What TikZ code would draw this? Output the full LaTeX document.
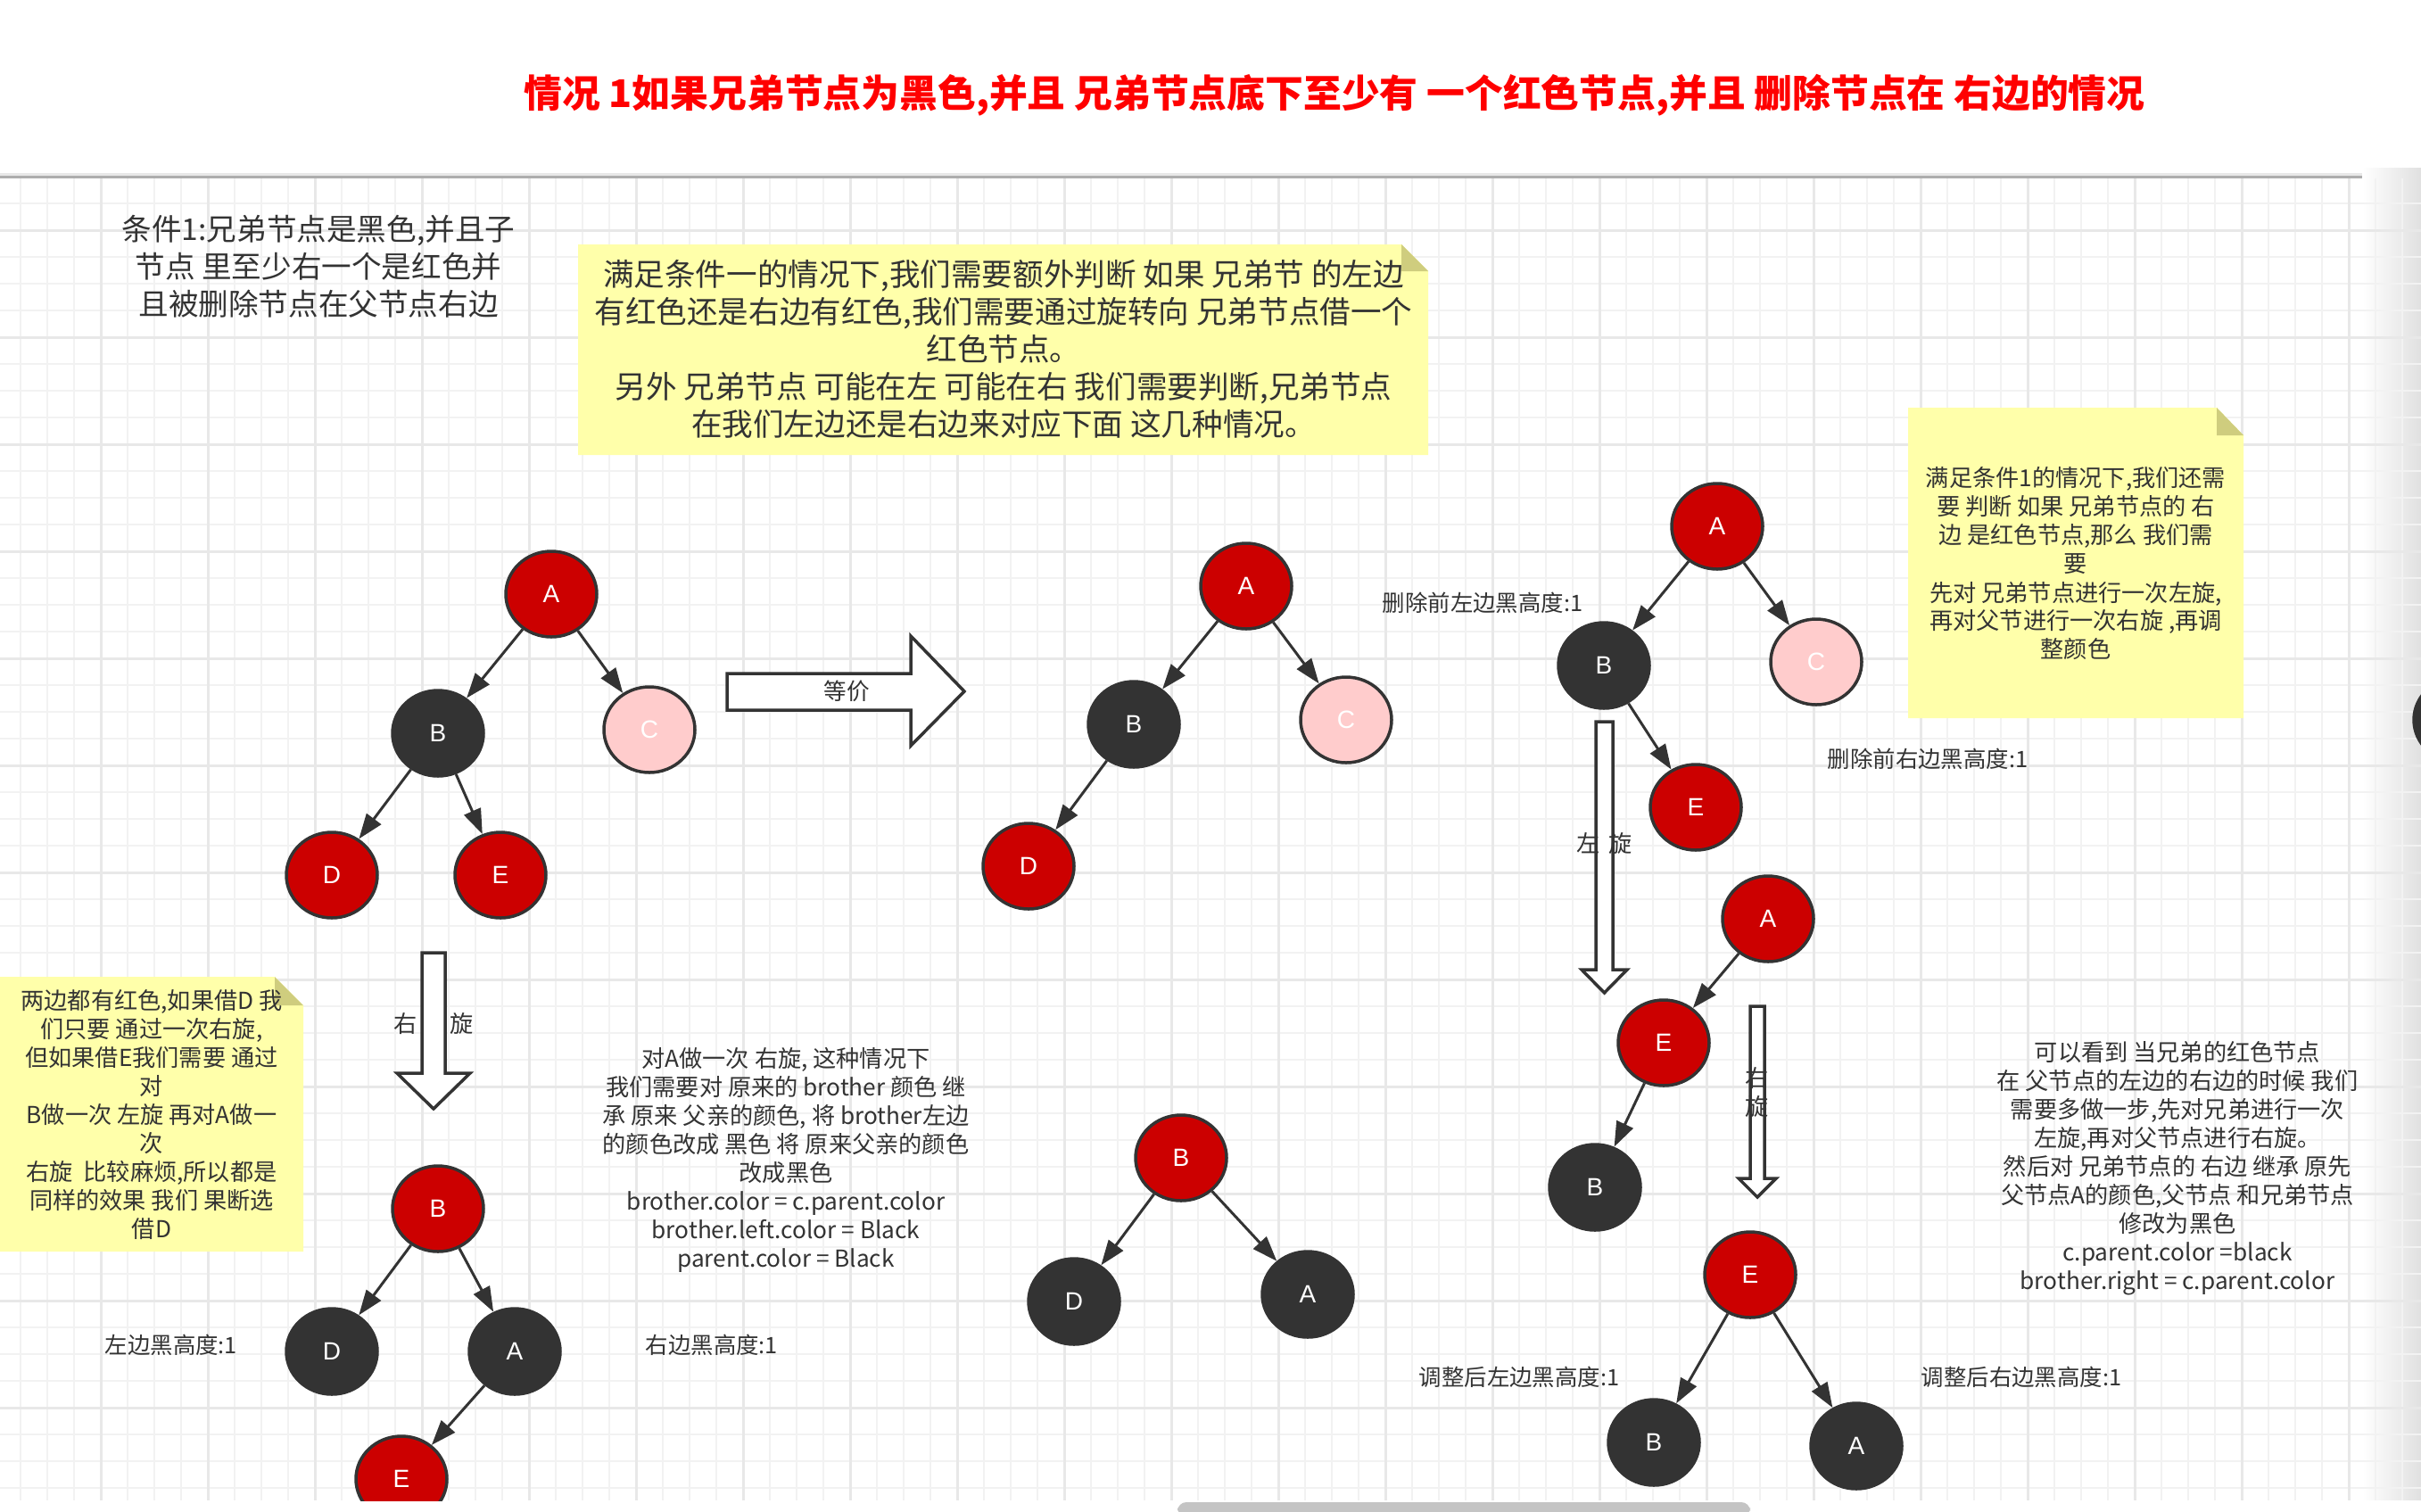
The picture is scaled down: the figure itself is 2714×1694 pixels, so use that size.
\documentclass[tikz,border=0pt]{standalone}
\usepackage{fontspec}
\setmainfont{Noto Sans CJK SC}
\newfontfamily\latf{Liberation Sans}
\usetikzlibrary{shapes.geometric,arrows.meta}
\definecolor{nred}{HTML}{CC0000}
\definecolor{nblack}{HTML}{333333}
\definecolor{npink}{HTML}{FFCCCC}
\definecolor{notey}{HTML}{FFFFAA}
\definecolor{notef}{HTML}{CFCD7E}
\definecolor{txt}{HTML}{333333}
\definecolor{titlered}{HTML}{FF0000}
\definecolor{scrollc}{HTML}{C4C4C4}
\begin{document}
\begin{tikzpicture}[x=0.5pt,y=-0.5pt,
  tnode/.style={ellipse, draw=nblack, line width=1.75pt, minimum width=51pt, minimum height=48pt, inner sep=0pt, text=white, font=\latf\fontsize{14}{14}\selectfont},
  rn/.style={tnode, fill=nred},
  bn/.style={tnode, fill=nblack},
  pn/.style={tnode, fill=npink},
  tedge/.style={draw=nblack, line width=1.5pt, -{Triangle[length=14pt,width=10pt]}},
  blockarrow/.style={fill=white, draw=nblack, line width=1.75pt, line join=miter},
  notebox/.style={fill=notey, draw=none},
  notefold/.style={fill=notef, draw=none},
  bigtxt/.style={text=txt, align=center, inner sep=0pt, font=\fontsize{16.8}{21}\selectfont},
  smalltxt/.style={text=txt, align=center, inner sep=0pt, font=\fontsize{13.1}{16}\selectfont},
  lbltxt/.style={text=txt, inner sep=0pt, font=\fontsize{12.7}{15}\selectfont},
  minorline/.style={draw=black!5, line width=1pt},
  majorline/.style={draw=black!9, line width=1.5pt}
]
\useasboundingbox (0,0) rectangle (2714,1694);
\fill[white] (0,0) rectangle (2714,1694);
% right gradient strip
\shade[left color=white, right color=black!12] (2648,188) rectangle (2714,1682);
% grid
\foreach \x in {23,53,...,2713} \draw[minorline] (\x,200) -- (\x,1682);
\foreach \y in {228,258,...,1668} \draw[minorline] (0,\y) -- (2714,\y);
\foreach \x in {113,233,...,2633} \draw[majorline] (\x,200) -- (\x,1682);
\foreach \y in {258,378,...,1578} \draw[majorline] (0,\y) -- (2714,\y);
% top band
\fill[black!9] (0,194) rectangle (2648,197);
\fill[black!32] (0,197) rectangle (2648,200);
% title
\node[text=titlered, inner sep=0pt, font=\bfseries\fontsize{21.4}{25}\selectfont] (title) at (1496,107)
  {情况 1如果兄弟节点为黑色,并且 兄弟节点底下至少有 一个红色节点,并且 删除节点在 右边的情况};
% bottom strip and scrollbar
\fill[white] (0,1682) rectangle (2714,1694);
\fill[scrollc, rounded corners=5pt] (1320,1684) rectangle (1962,1700);

\begin{scope}
\clip (0,200) rectangle (2714,1682);
% top-left text
\node[bigtxt] (cond) at (357,299) {条件1:兄弟节点是黑色,并且子\\节点 里至少右一个是红色并\\且被删除节点在父节点右边};
% note 1
\path[notebox] (648,274) -- (1571,274) -- (1601,304) -- (1601,510) -- (648,510) -- cycle;
\path[notefold] (1571,274) -- (1601,304) -- (1571,304) -- cycle;
\node[bigtxt, font=\fontsize{17.3}{21}\selectfont] (note1) at (1125,391) {满足条件一的情况下,我们需要额外判断 如果 兄弟节 的左边\\有红色还是右边有红色,我们需要通过旋转向 兄弟节点借一个\\红色节点。\\另外 兄弟节点 可能在左 可能在右 我们需要判断,兄弟节点\\在我们左边还是右边来对应下面 这几种情况。};
% note 2
\path[notebox] (2139,457) -- (2485,457) -- (2515,488) -- (2515,805) -- (2139,805) -- cycle;
\path[notefold] (2485,457) -- (2515,488) -- (2485,488) -- cycle;
\node[smalltxt] (note2) at (2327,632) {满足条件1的情况下,我们还需\\要 判断 如果 兄弟节点的 右\\边 是红色节点,那么 我们需\\要\\先对 兄弟节点进行一次左旋,\\再对父节进行一次右旋 ,再调\\整颜色};
% note 3
\path[notebox] (0,1095) -- (308,1095) -- (340,1127) -- (340,1403) -- (0,1403) -- cycle;
\path[notefold] (308,1095) -- (340,1127) -- (308,1127) -- cycle;
\node[smalltxt] (note3) at (170,1250) {两边都有红色,如果借D 我\\们只要 通过一次右旋,\\但如果借E我们需要 通过\\对\\B做一次 左旋 再对A做一\\次\\右旋 \ 比较麻烦,所以都是\\同样的效果 我们 果断选\\借D};
% middle text
\node[smalltxt] (midtxt) at (881,1300) {对A做一次 右旋, 这种情况下\\我们需要对 原来的 brother 颜色 继\\承 原来 父亲的颜色, 将 brother左边\\的颜色改成 黑色 将 原来父亲的颜色\\改成黑色\\brother.color = c.parent.color\\brother.left.color = Black\\parent.color = Black};
% right text
\node[smalltxt] (righttxt) at (2441,1310) {可以看到 当兄弟的红色节点\\在 父节点的左边的右边的时候 我们\\需要多做一步,先对兄弟进行一次\\左旋,再对父节点进行右旋。\\然后对 兄弟节点的 右边 继承 原先\\父节点A的颜色,父节点 和兄弟节点\\修改为黑色\\c.parent.color =black\\brother.right = c.parent.color};
% height labels
\node[lbltxt] (l1) at (1662,676) {删除前左边黑高度:1};
\node[lbltxt] (l2) at (2161,851) {删除前右边黑高度:1};
\node[lbltxt] (l3) at (192,1508) {左边黑高度:1};
\node[lbltxt] (l4) at (798,1508) {右边黑高度:1};
\node[lbltxt] (l5) at (1703,1544) {调整后左边黑高度:1};
\node[lbltxt] (l6) at (2266,1544) {调整后右边黑高度:1};

% block arrows
\draw[blockarrow] (815,755) -- (1021,755) -- (1021,713) -- (1081,775) -- (1021,836) -- (1021,796) -- (815,796) -- cycle;
\node[smalltxt, font=\fontsize{12.8}{15}\selectfont] (eqlbl) at (949,775) {等价};
\draw[blockarrow] (473,1068) -- (499,1068) -- (499,1203) -- (527,1203) -- (486,1243) -- (445,1203) -- (473,1203) -- cycle;
\node[smalltxt] (rot1) at (486,1148) {右\hspace{18pt}旋};
\draw[blockarrow] (1789,809) -- (1808,809) -- (1808,1087) -- (1824,1087) -- (1798.5,1113) -- (1773,1087) -- (1789,1087) -- cycle;
\node[smalltxt] (rot2) at (1798.5,946) {左\hspace{4.5pt}旋};
\draw[blockarrow] (1962,1128) -- (1978,1128) -- (1978,1321) -- (1991,1321) -- (1970,1342) -- (1949,1321) -- (1962,1321) -- cycle;
\node[smalltxt] (rot3) at (1970,1225) {右\\旋};

% tree 1
\node[rn] (t1a) at (618,666) {A};
\node[bn] (t1b) at (491,822) {B};
\node[pn] (t1c) at (728,818) {C};
\node[rn] (t1d) at (372,981) {D};
\node[rn] (t1e) at (561,981) {E};
\draw[tedge] (t1a) -- (t1b);
\draw[tedge] (t1a) -- (t1c);
\draw[tedge] (t1b) -- (t1d);
\draw[tedge] (t1b) -- (t1e);
% tree 2
\node[rn] (t2a) at (1397,657) {A};
\node[bn] (t2b) at (1271,812) {B};
\node[pn] (t2c) at (1509,807) {C};
\node[rn] (t2d) at (1153,971) {D};
\draw[tedge] (t2a) -- (t2b);
\draw[tedge] (t2a) -- (t2c);
\draw[tedge] (t2b) -- (t2d);
% tree 3
\node[rn] (t3a) at (1925,590) {A};
\node[bn] (t3b) at (1798,746) {B};
\node[pn] (t3c) at (2036,742) {C};
\node[rn] (t3e) at (1901,905) {E};
\draw[tedge] (t3a) -- (t3b);
\draw[tedge] (t3a) -- (t3c);
\draw[tedge] (t3b) -- (t3e);
% tree 4
\node[rn] (t4a) at (1982,1030) {A};
\node[rn] (t4e) at (1865,1169) {E};
\node[bn] (t4b) at (1788,1331) {B};
\draw[tedge] (t4a) -- (t4e);
\draw[tedge] (t4e) -- (t4b);
% tree 5
\node[rn] (t5e) at (1962,1429) {E};
\node[bn] (t5b) at (1854,1617) {B};
\node[bn] (t5a) at (2081,1621) {A};
\draw[tedge] (t5e) -- (t5b);
\draw[tedge] (t5e) -- (t5a);
% tree 6
\node[rn] (t6b) at (491,1355) {B};
\node[bn] (t6d) at (372,1515) {D};
\node[bn] (t6a) at (577,1515) {A};
\node[rn] (t6e) at (450,1658) {E};
\draw[tedge] (t6b) -- (t6d);
\draw[tedge] (t6b) -- (t6a);
\draw[tedge] (t6a) -- (t6e);
% tree 7
\node[rn] (t7b) at (1324,1298) {B};
\node[bn] (t7d) at (1204,1459) {D};
\node[bn] (t7a) at (1466,1451) {A};
\draw[tedge] (t7b) -- (t7d);
\draw[tedge] (t7b) -- (t7a);
% partial node at right edge
\node[bn] (edgenode) at (2757,807) {};
\end{scope}
\end{tikzpicture}
\end{document}
